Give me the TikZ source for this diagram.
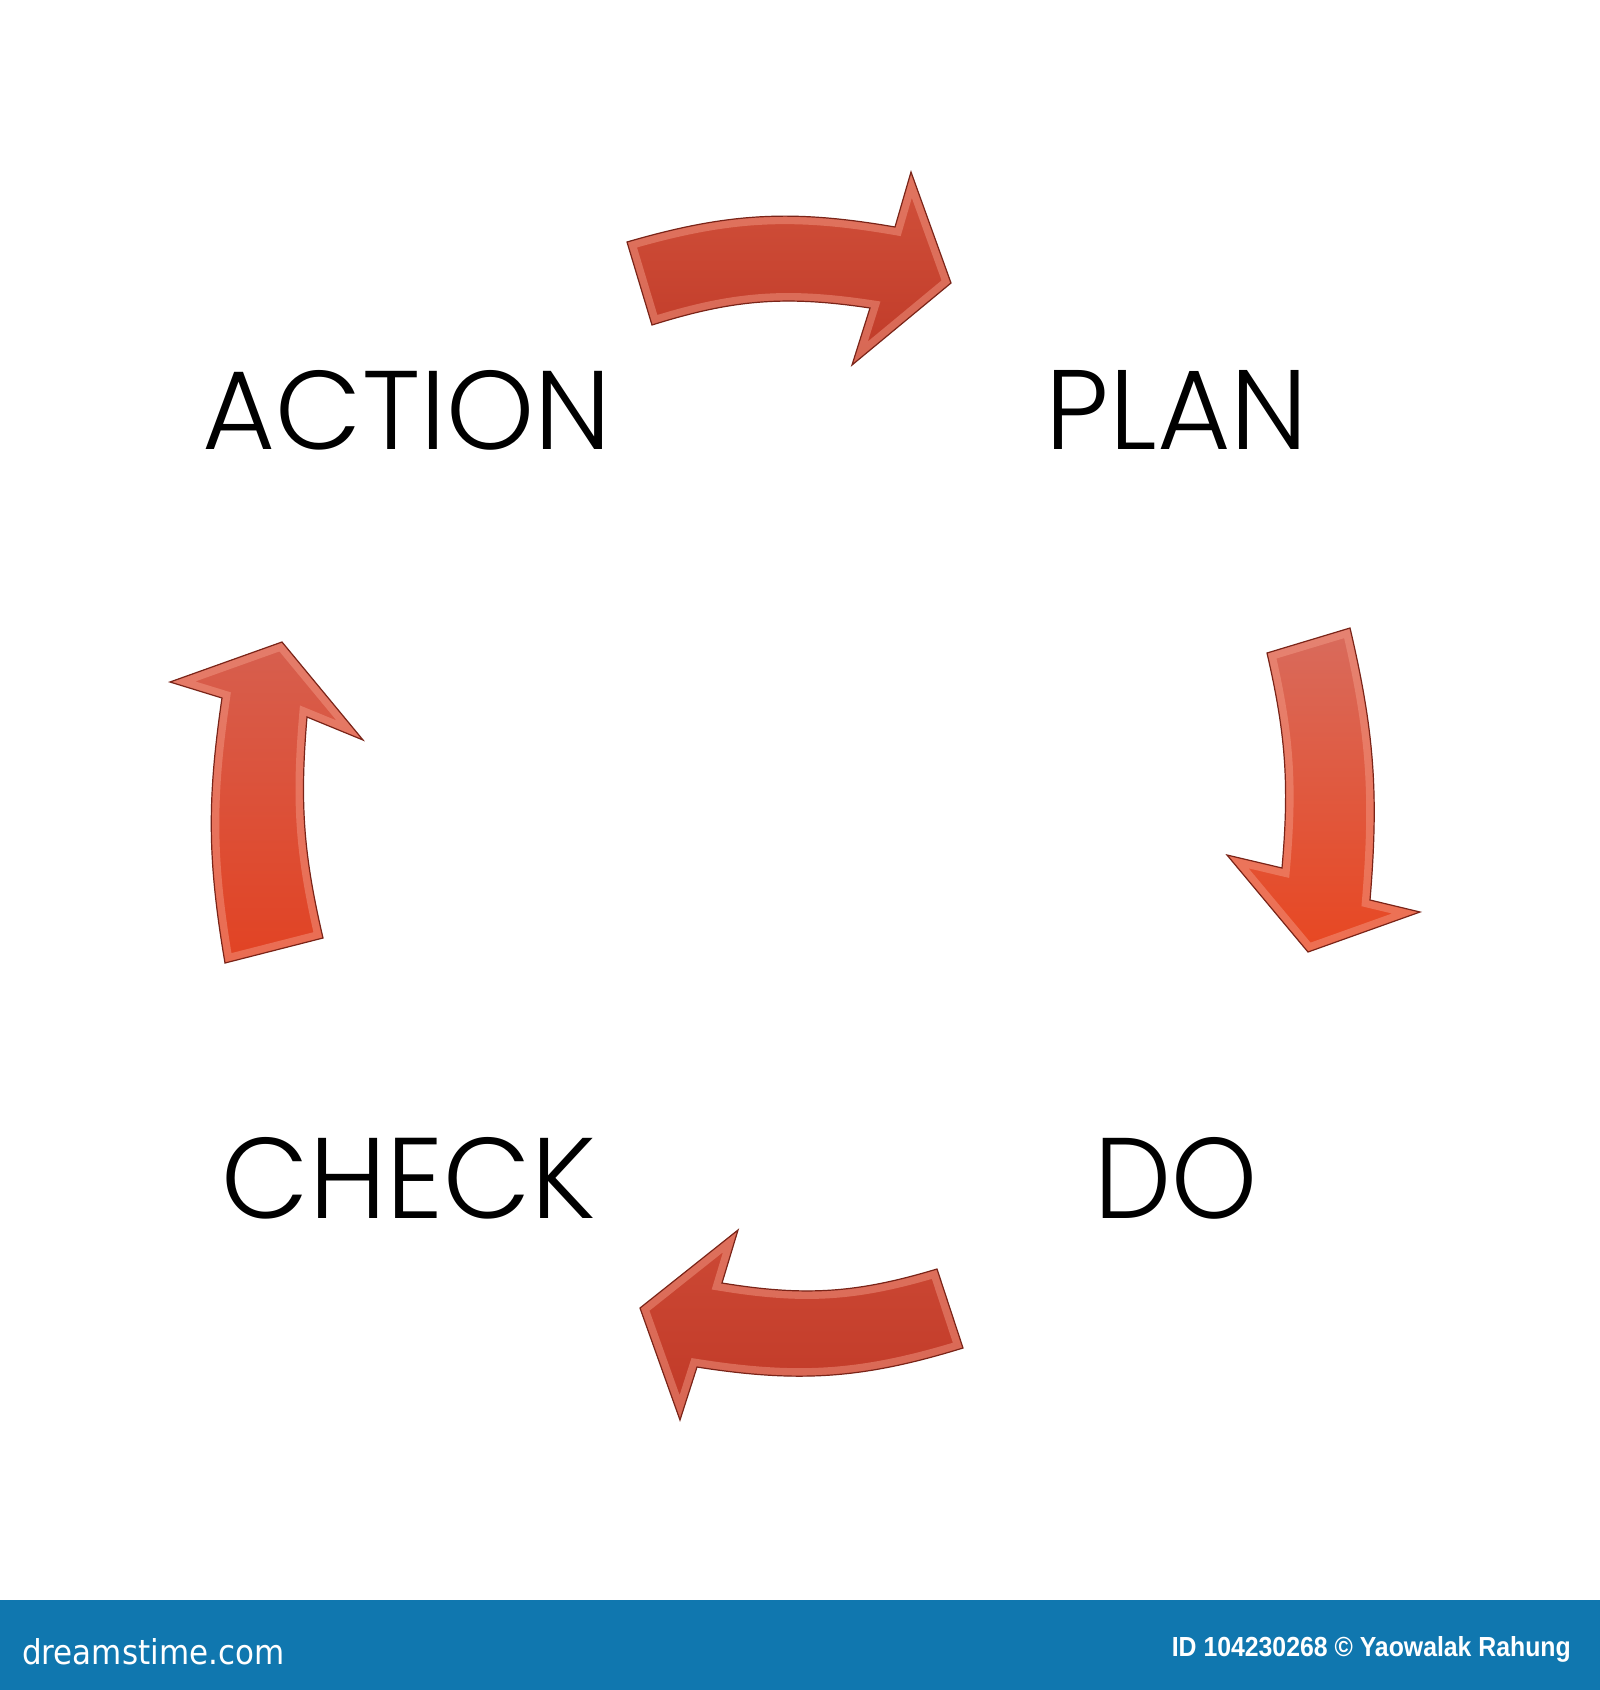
\documentclass[tikz,border=0pt]{standalone}
\usepackage{fontspec}
\newfontfamily\lbl{Poppins}[UprightFont=* Light]
\newfontfamily\barfont{Liberation Sans}
\newfontfamily\logofont{DejaVu Sans}
\usetikzlibrary{calc}
\definecolor{barblue}{RGB}{16,119,175}
\definecolor{rim}{RGB}{122,36,24}
\definecolor{bevel}{RGB}{245,160,140}
\begin{document}
\begin{tikzpicture}[x=1pt,y=-1pt,
  word/.style={inner sep=0pt, anchor=base, text=black},
  rimline/.style={line width=1.2pt, draw=rim, line join=miter},
  bevelline/.style={line width=16pt, draw=bevel, opacity=0.45, line join=miter}]
\useasboundingbox (0,0) rectangle (1600,1690);
\fill[white] (0,0) rectangle (1600,1690);

% arrow outlines
\def\arrTop{(627,242) to[bend left=13] (895,227) -- (911,172) -- (951,283) -- (852,365) -- (870,308) to[bend right=13] (652,325) -- cycle}
\def\arrRight{(1350,628) to[bend left=9] (1370,900) -- (1420,912) -- (1308,952) -- (1227,855) -- (1282,868) to[bend right=9] (1267,653) -- cycle}
\def\arrBottom{(963,1348) to[bend left=13] (697,1367) -- (680,1420) -- (640,1308) -- (738,1230) -- (722,1283) to[bend right=13] (937,1269) -- cycle}
\def\arrLeft{(225,963) to[bend left=9] (222,698) -- (170,682) -- (282,642) -- (363,740) -- (307,717) to[bend right=9] (323,938) -- cycle}

% top arrow (ACTION -> PLAN)
\begin{scope}
  \clip \arrTop;
  \shade[top color={rgb,255:red,212;green,84;blue,62}, bottom color={rgb,255:red,190;green,56;blue,38}] (600,150) rectangle (970,380);
  \draw[bevelline] \arrTop;
\end{scope}
\draw[rimline] \arrTop;

% right arrow (PLAN -> DO)
\begin{scope}
  \clip \arrRight;
  \shade[top color={rgb,255:red,216;green,108;blue,94}, bottom color={rgb,255:red,232;green,70;blue,32}] (1210,620) rectangle (1430,960);
  \draw[bevelline] \arrRight;
\end{scope}
\draw[rimline] \arrRight;

% bottom arrow (DO -> CHECK)
\begin{scope}
  \clip \arrBottom;
  \shade[top color={rgb,255:red,205;green,74;blue,54}, bottom color={rgb,255:red,192;green,56;blue,38}] (620,1220) rectangle (980,1430);
  \draw[bevelline] \arrBottom;
\end{scope}
\draw[rimline] \arrBottom;

% left arrow (CHECK -> ACTION)
\begin{scope}
  \clip \arrLeft;
  \shade[top color={rgb,255:red,214;green,96;blue,80}, bottom color={rgb,255:red,226;green,66;blue,34}] (160,630) rectangle (370,970);
  \draw[bevelline] \arrLeft;
\end{scope}
\draw[rimline] \arrLeft;

% labels
\node[word] (action) at (407,449) {\resizebox{408pt}{79pt}{\lbl ACTION}};
\node[word] (plan) at (1177,449) {\resizebox{262pt}{79pt}{\lbl PLAN}};
\node[word] (check) at (409,1218) {\resizebox{374pt}{81pt}{\lbl CHECK}};
\node[word] (do) at (1176,1218) {\resizebox{163pt}{81pt}{\lbl DO}};

% credit bar
\fill[barblue] (0,1600) rectangle (1600,1690);
\node[inner sep=0pt, anchor=base west, text=white] (logo) at (22,1664) {\resizebox{262pt}{26pt}{\logofont dreamstime.com}};
\node[inner sep=0pt, anchor=base east, text=white] (credit) at (1571,1656) {\resizebox{399pt}{20pt}{\barfont\bfseries ID 104230268 © Yaowalak Rahung}};
\end{tikzpicture}
\end{document}
